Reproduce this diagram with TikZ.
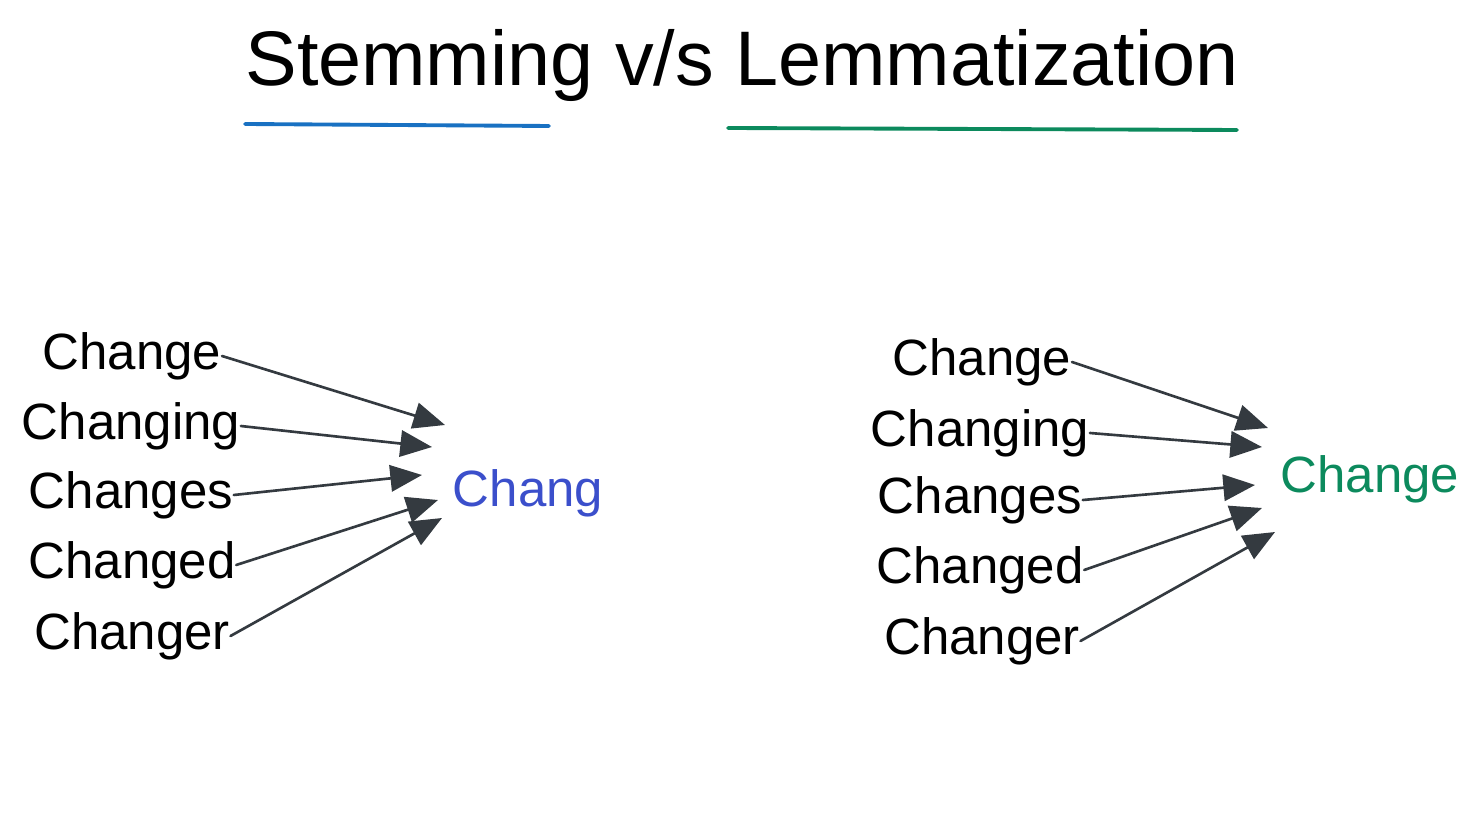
\documentclass[tikz,border=0pt]{standalone}
\usepackage{fontspec}
\setmainfont{Liberation Sans}
\usetikzlibrary{arrows.meta}

\definecolor{stemblue}{HTML}{1971C2}
\definecolor{lemgreen}{HTML}{0C8A5D}
\definecolor{changblue}{HTML}{3B4FCB}
\definecolor{arrowgray}{HTML}{343A40}

\begin{document}
\begin{tikzpicture}[x=0.01cm, y=-0.01cm, line cap=round, line join=round,
	word/.style={inner sep=0pt, font=\fontsize{14.5}{17}\selectfont},
	link/.style={arrowgray, line width=0.75pt, -{Triangle[length=9pt, width=7.5pt]}}]
	\useasboundingbox (0,0) rectangle (1483,831);
	\node[inner sep=0pt, font=\fontsize{22}{26}\selectfont] (title) at (742,66) {Stemming v/s Lemmatization};
	\draw[stemblue, line width=1.1pt] (245,124) -- (549,126);
	\draw[lemgreen, line width=1.1pt] (728,128) -- (1237,130);
	% stemming side
	\node[word] (l1) at (132,356) {Change};
	\node[word] (l2) at (131,426) {Changing};
	\node[word] (l3) at (131,495) {Changes};
	\node[word] (l4) at (132,565) {Changed};
	\node[word] (l5) at (132,636) {Changer};
	\node[word, changblue] (stem) at (528,493) {Chang};
	\coordinate (ls1) at (445,425);
	\coordinate (ls2) at (432,447);
	\coordinate (ls3) at (422,475);
	\coordinate (ls4) at (438,500);
	\coordinate (ls5) at (442,518);
	\foreach \i in {1,...,5}
		\draw[link] (l\i.east) -- (ls\i);
	% lemmatization side
	\node[word] (r1) at (982,362) {Change};
	\node[word] (r2) at (980,433) {Changing};
	\node[word] (r3) at (980,500) {Changes};
	\node[word] (r4) at (980,570) {Changed};
	\node[word] (r5) at (982,641) {Changer};
	\node[word, lemgreen] (lemma) at (1370,479) {Change};
	\coordinate (rs1) at (1268,428);
	\coordinate (rs2) at (1262,447);
	\coordinate (rs3) at (1255,485);
	\coordinate (rs4) at (1262,508);
	\coordinate (rs5) at (1275,532);
	\foreach \i in {1,...,5}
		\draw[link] (r\i.east) -- (rs\i);
\end{tikzpicture}
\end{document}
